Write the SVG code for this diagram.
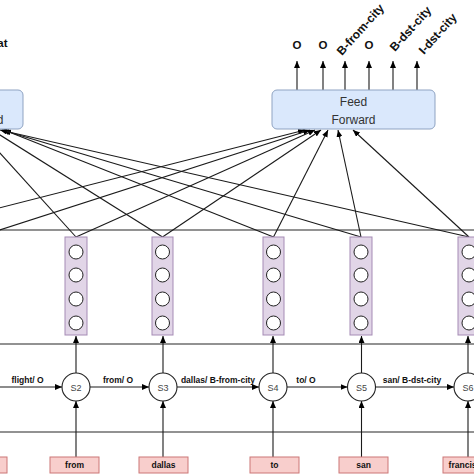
<svg xmlns="http://www.w3.org/2000/svg" width="474" height="474" viewBox="0 0 474 474">
<defs>
<marker id="ah" markerWidth="7" markerHeight="6" refX="7" refY="3" orient="auto" markerUnits="userSpaceOnUse">
<path d="M0,0 L7,3 L0,6 z" fill="#000"/>
</marker>
<style>
.bus{stroke:#6e6e6e;stroke-width:1.6;fill:none}
.ln{stroke:#1a1a1a;stroke-width:1.1;fill:none}
.ar{stroke:#1a1a1a;stroke-width:1.1;fill:none;marker-end:url(#ah)}
.ff{fill:#dae8fc;stroke:#8fa3c2;stroke-width:1}
.col{fill:#e1d5e7;stroke:#a58bb5;stroke-width:1}
.cell{fill:#fff;stroke:#222;stroke-width:1}
.st{fill:#fff;stroke:#222;stroke-width:1.1}
.wb{fill:#f8cecc;stroke:#c77;stroke-width:1}
.t{font-family:"Liberation Sans",Arial,sans-serif}
.b{font-weight:bold;fill:#111}
.ffT{font-size:12px;fill:#333;text-anchor:middle}
.lab{font-size:8.5px;text-anchor:middle}
.out{font-size:11.5px}
.rot{font-size:12px}
.sT{font-size:9px;fill:#444;text-anchor:middle}
</style>
</defs>

<!-- background bus lines -->
<g id="buses">
<line class="bus" x1="0" y1="230" x2="474" y2="230"/>
<line class="bus" x1="0" y1="344" x2="474" y2="344"/>
<line class="bus" x1="0" y1="432" x2="474" y2="432"/>
</g>

<text id="title" class="t b out" x="7.5" y="47" text-anchor="end" font-size="12">at</text>

<!-- connectors -->
<g id="connectors">
<!-- to right feed forward -->
<line class="ar" x1="-115" y1="237" x2="305" y2="130"/>
<line class="ar" x1="-22" y1="237" x2="310" y2="130"/>
<line class="ar" x1="76" y1="237" x2="315" y2="130"/>
<line class="ar" x1="162.5" y1="237" x2="321" y2="130"/>
<line class="ar" x1="273.5" y1="237" x2="328" y2="130"/>
<line class="ar" x1="361" y1="237" x2="338" y2="130"/>
<line class="ar" x1="469" y1="237" x2="353" y2="130"/>
<!-- to left feed forward -->
<line class="ar" x1="76" y1="237" x2="-21" y2="130"/>
<line class="ar" x1="162.5" y1="237" x2="-8" y2="130"/>
<line class="ar" x1="273.5" y1="237" x2="4" y2="130"/>
<line class="ar" x1="361" y1="237" x2="2" y2="130"/>
<line class="ar" x1="469" y1="237" x2="0" y2="130"/>
<!-- outputs -->
<line class="ar" x1="297" y1="90" x2="297" y2="61"/>
<line class="ar" x1="323" y1="90" x2="323" y2="61"/>
<line class="ar" x1="345" y1="90" x2="345" y2="61"/>
<line class="ar" x1="369" y1="90" x2="369" y2="61"/>
<line class="ar" x1="393" y1="90" x2="393" y2="61"/>
<line class="ar" x1="417" y1="90" x2="417" y2="61"/>
<!-- state to column -->
<line class="ar" x1="76" y1="373" x2="76" y2="336"/>
<line class="ar" x1="163" y1="373" x2="163" y2="336"/>
<line class="ar" x1="273" y1="373" x2="273" y2="336"/>
<line class="ar" x1="361.5" y1="373" x2="361.5" y2="336"/>
<line class="ar" x1="468" y1="373" x2="468" y2="336"/>
<!-- word to state -->
<line class="ar" x1="76" y1="457" x2="76" y2="401"/>
<line class="ar" x1="163" y1="457" x2="163" y2="401"/>
<line class="ar" x1="273" y1="457" x2="273" y2="401"/>
<line class="ar" x1="361.5" y1="457" x2="361.5" y2="401"/>
<line class="ar" x1="468" y1="457" x2="468" y2="401"/>
<!-- transitions -->
<line class="ar" x1="0" y1="387" x2="62" y2="387"/>
<line class="ar" x1="90" y1="387" x2="149" y2="387"/>
<line class="ar" x1="177" y1="387" x2="259" y2="387"/>
<line class="ar" x1="287" y1="387" x2="347.5" y2="387"/>
<line class="ar" x1="375.5" y1="387" x2="454" y2="387"/>
<text class="t b lab" x="27.5" y="383">flight/ O</text>
<text class="t b lab" x="118" y="383">from/ O</text>
<text class="t b lab" x="218" y="383">dallas/ B-from-city</text>
<text class="t b lab" x="306" y="383">to/ O</text>
<text class="t b lab" x="412" y="383">san/ B-dst-city</text>
</g>

<!-- feed forward nodes -->
<g id="ff-left">
<rect class="ff" x="-140" y="90" width="163" height="39" rx="5"/>
<text class="t ffT" x="3.5" y="124" style="text-anchor:end">Forward</text>
</g>
<g id="ff-right">
<rect class="ff" x="272" y="90" width="163" height="39" rx="5"/>
<text class="t ffT" x="353.5" y="106">Feed</text>
<text class="t ffT" x="353.5" y="124">Forward</text>
</g>

<!-- output labels -->
<g id="outputs">
<text class="t b out" x="297" y="49" text-anchor="middle">O</text>
<text class="t b out" x="323" y="49" text-anchor="middle">O</text>
<text class="t b rot" x="342" y="56" transform="rotate(-48 342 56)">B-from-city</text>
<text class="t b out" x="369" y="49" text-anchor="middle">O</text>
<text class="t b rot" x="395" y="52" transform="rotate(-48 395 52)">B-dst-city</text>
<text class="t b rot" x="424" y="55" transform="rotate(-48 424 55)">I-dst-city</text>
</g>

<!-- columns -->
<g id="col1">
<rect class="col" x="65" y="237" width="22" height="98"/>
<circle class="cell" cx="76" cy="252" r="7"/><circle class="cell" cx="76" cy="275" r="7"/><circle class="cell" cx="76" cy="299" r="7"/><circle class="cell" cx="76" cy="323" r="7"/>
</g>
<g id="col2">
<rect class="col" x="152" y="237" width="21" height="98"/>
<circle class="cell" cx="162.5" cy="252" r="7"/><circle class="cell" cx="162.5" cy="275" r="7"/><circle class="cell" cx="162.5" cy="299" r="7"/><circle class="cell" cx="162.5" cy="323" r="7"/>
</g>
<g id="col3">
<rect class="col" x="263" y="237" width="21" height="98"/>
<circle class="cell" cx="273.5" cy="252" r="7"/><circle class="cell" cx="273.5" cy="275" r="7"/><circle class="cell" cx="273.5" cy="299" r="7"/><circle class="cell" cx="273.5" cy="323" r="7"/>
</g>
<g id="col4">
<rect class="col" x="350" y="237" width="22" height="98"/>
<circle class="cell" cx="361" cy="252" r="7"/><circle class="cell" cx="361" cy="275" r="7"/><circle class="cell" cx="361" cy="299" r="7"/><circle class="cell" cx="361" cy="323" r="7"/>
</g>
<g id="col5">
<rect class="col" x="458" y="237" width="22" height="98"/>
<circle class="cell" cx="469" cy="252" r="7"/><circle class="cell" cx="469" cy="275" r="7"/><circle class="cell" cx="469" cy="299" r="7"/><circle class="cell" cx="469" cy="323" r="7"/>
</g>

<!-- states -->
<g id="S2"><circle class="st" cx="76" cy="387" r="14"/><text class="t sT" x="76" y="390.5">S2</text></g>
<g id="S3"><circle class="st" cx="163" cy="387" r="14"/><text class="t sT" x="163" y="390.5">S3</text></g>
<g id="S4"><circle class="st" cx="273" cy="387" r="14"/><text class="t sT" x="273" y="390.5">S4</text></g>
<g id="S5"><circle class="st" cx="361.5" cy="387" r="14"/><text class="t sT" x="361.5" y="390.5">S5</text></g>
<g id="S6"><circle class="st" cx="468" cy="387" r="14"/><text class="t sT" x="468" y="390.5">S6</text></g>

<!-- words -->
<g id="w0"><rect class="wb" x="-42" y="457" width="49" height="16"/></g>
<g id="w-from"><rect class="wb" x="50" y="457" width="49" height="16"/><text class="t b lab" x="74.5" y="468">from</text></g>
<g id="w-dallas"><rect class="wb" x="139" y="457" width="49" height="16"/><text class="t b lab" x="163.5" y="468">dallas</text></g>
<g id="w-to"><rect class="wb" x="250" y="457" width="49" height="16"/><text class="t b lab" x="274.5" y="468">to</text></g>
<g id="w-san"><rect class="wb" x="339" y="457" width="49" height="16"/><text class="t b lab" x="363.5" y="468">san</text></g>
<g id="w-francisco"><rect class="wb" x="443" y="457" width="49" height="16"/><text class="t b lab" x="467.5" y="468">francisco</text></g>
</svg>
